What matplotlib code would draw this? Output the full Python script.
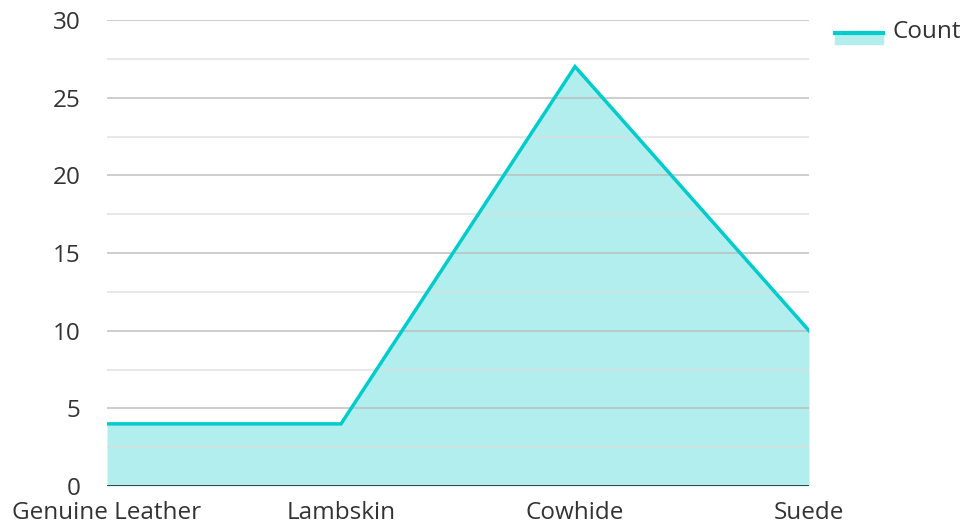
import matplotlib.pyplot as plt
import numpy as np
from matplotlib.patches import Rectangle
from matplotlib.lines import Line2D

plt.rcParams['font.family'] = ['Open Sans', 'DejaVu Sans']

categories = ["Genuine Leather", "Lambskin", "Cowhide", "Suede"]
counts = [4, 4, 27, 10]

line_color = "#00cccc"
fill_color = "#b2eeee"

fig = plt.figure(figsize=(9.66, 5.28), dpi=100)
ax = fig.add_axes([107 / 966, 1 - 486 / 528, (809 - 107) / 966, (486 - 20) / 528])

x = np.arange(len(categories))
ax.fill_between(x, counts, 0, color=fill_color, zorder=1, linewidth=0)
ax.plot(x, counts, color=line_color, linewidth=2.5, zorder=3,
        solid_joinstyle="miter")

# grid: major every 5, minor every 2.5
for v in np.arange(5, 31, 5):
    ax.axhline(v, color="#bbbbbb", linewidth=1.2, zorder=2, alpha=0.85)
for v in np.arange(2.5, 30, 5):
    ax.axhline(v, color="#dddddd", linewidth=1.2, zorder=2, alpha=0.8)
ax.axhline(0, color="#333333", linewidth=2, zorder=4)

ax.set_xlim(0, 3)
ax.set_ylim(0, 30)
ax.set_yticks(range(0, 31, 5))
ax.set_xticks(x)
ax.set_xticklabels(categories)
ax.tick_params(axis="both", length=0, labelsize=17.5, labelcolor="#333333")
ax.tick_params(axis="y", pad=19)
ax.tick_params(axis="x", pad=11)
for s in ax.spines.values():
    s.set_visible(False)

# legend
fig.patches.append(Rectangle((835 / 966, 1 - 44 / 528), 48 / 966, 12 / 528,
                             transform=fig.transFigure, color=fill_color))
fig.lines.append(Line2D([835 / 966, 883 / 966], [1 - 33 / 528, 1 - 33 / 528],
                        transform=fig.transFigure, color=line_color, linewidth=3))
fig.text(893 / 966, 1 - 32 / 528, "Count", fontsize=17.5, color="#333333",
         va="center", ha="left")

fig.savefig("out.png", dpi=100)
